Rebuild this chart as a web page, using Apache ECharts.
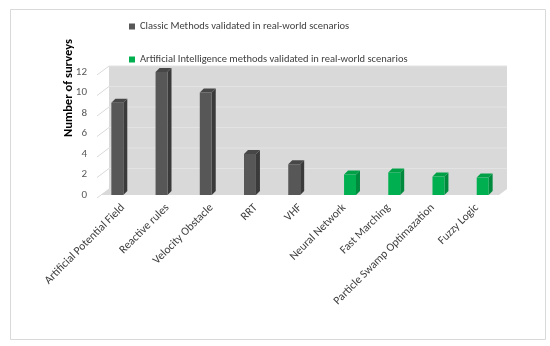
<!DOCTYPE html>
<html><head><meta charset="utf-8">
<script src="https://cdn.jsdelivr.net/npm/echarts@6/dist/echarts.min.js"></script>
<style>html,body{margin:0;padding:0;background:#fff}#c{width:550px;height:346px}</style>
</head><body><div id="c"></div>
<script>
var categories = ['Artificial Potential Field','Reactive rules','Velocity Obstacle','RRT','VHF','Neural Network','Fast Marching','Particle Swamp Optimazation','Fuzzy Logic'];
var classicValues = [9, 12, 10, 4, 3, null, null, null, null];
var aiValues = [null, null, null, null, null, 2, 2.2, 1.8, 1.7];
var yTicks = [0, 2, 4, 6, 8, 10, 12];
var seriesNames = ['Classic Methods validated in real-world scenarios','Artificial Intelligence methods validated in real-world scenarios'];

var FONT = "Carlito, Lato, 'Liberation Sans', sans-serif";
var chart = echarts.init(document.getElementById('c'));

function toData(arr){ var d=[]; arr.forEach(function(v,i){ if(v!==null) d.push([i,v]); }); return d; }

function barRender(sign, col){
  return function(params, api){
    var i = api.value(0), v = api.value(1);
    var top = api.coord([i, v]), base = api.coord([i, 0]);
    var cw = api.size([1,0])[0];
    var w = cw*0.27;
    var cx = top[0] + sign*cw*0.131;
    var x0 = cx - w/2, x1 = cx + w/2;
    var dx = 4, dy = 4;
    return {type:'group', children:[
      {type:'polygon', shape:{points:[[x1,top[1]],[x1+dx,top[1]-dy],[x1+dx,base[1]-dy],[x1,base[1]]]}, style:{fill:col.side}},
      {type:'polygon', shape:{points:[[x0,top[1]],[x0+dx,top[1]-dy],[x1+dx,top[1]-dy],[x1,top[1]]]}, style:{fill:col.top}},
      {type:'rect', shape:{x:x0,y:top[1],width:w,height:base[1]-top[1]}, style:{fill:col.front}}
    ]};
  };
}

function frameRender(params, api){
  var cw = api.size([1,0])[0];
  var n = categories.length;
  var left = api.coord([0,0])[0] - cw/2;
  var right = api.coord([n-1,0])[0] + cw/2;
  var y0 = api.coord([0,0])[1];
  var yMax = api.coord([0, yTicks[yTicks.length-1]])[1];
  var ox = 8, oy = -6;
  var children = [];
  children.push({type:'rect', shape:{x:left+ox, y:yMax+oy, width:right-left, height:y0-yMax}, style:{fill:'#d9d9d9'}});
  children.push({type:'polygon', shape:{points:[[left,y0],[left+ox,y0+oy],[right+ox,y0+oy],[right,y0]]}, style:{fill:'#d9d9d9'}});
  yTicks.forEach(function(t){
    var y = api.coord([0,t])[1];
    if(t>0) children.push({type:'line', shape:{x1:left+ox,y1:y+oy,x2:right+ox,y2:y+oy}, style:{stroke:'#e3e3e3',lineWidth:1}});
    children.push({type:'line', shape:{x1:left-4,y1:y+3,x2:left+ox,y2:y+oy}, style:{stroke:'#d9d9d9',lineWidth:1}});
  });
  return {type:'group', children:children};
}

chart.setOption({
  animation:false,
  textStyle:{fontFamily:FONT},
  grid:{left:101, right:51, top:72, bottom:151, containLabel:false},
  legend:{
    orient:'vertical', left:129, top:21, padding:0, itemWidth:6, itemHeight:6, itemGap:22,
    icon:'rect',
    textStyle:{fontFamily:FONT, fontSize:10.5, color:'#404040'},
    data:seriesNames
  },
  xAxis:{
    type:'category', data:categories,
    axisLine:{show:false}, axisTick:{show:false},
    axisLabel:{rotate:45, interval:0, fontSize:11.5, color:'#404040', margin:11, fontFamily:FONT}
  },
  yAxis:{
    type:'value', min:0, max:12, interval:2,
    axisLine:{show:false}, axisTick:{show:false}, splitLine:{show:false},
    axisLabel:{fontSize:11, color:'#595959', margin:14, fontFamily:FONT}
  },
  graphic:[
    {type:'rect', left:8, top:7, shape:{width:535, height:330}, style:{fill:'none', stroke:'#d9d9d9', lineWidth:1}, z:-10},
    {type:'text', x:69, y:88, rotation:Math.PI/2, style:{text:'Number of surveys', fontFamily:FONT, fontSize:12.5, fontWeight:'bold', fill:'#000', textAlign:'center', textVerticalAlign:'middle'}}
  ],
  series:[
    {type:'custom', name:'frame', silent:true, renderItem:frameRender, data:[[0,0]], z:1, clip:false},
    {type:'custom', name:seriesNames[0], renderItem:barRender(-1,{front:'#575757',side:'#3a3a3a',top:'#474747'}), itemStyle:{color:'#575757'}, data:toData(classicValues), encode:{x:0,y:1}, z:2, clip:false},
    {type:'custom', name:seriesNames[1], renderItem:barRender(1,{front:'#00b050',side:'#008a3e',top:'#00a047'}), itemStyle:{color:'#00b050'}, data:toData(aiValues), encode:{x:0,y:1}, z:2, clip:false}
  ]
});
</script></body></html>
